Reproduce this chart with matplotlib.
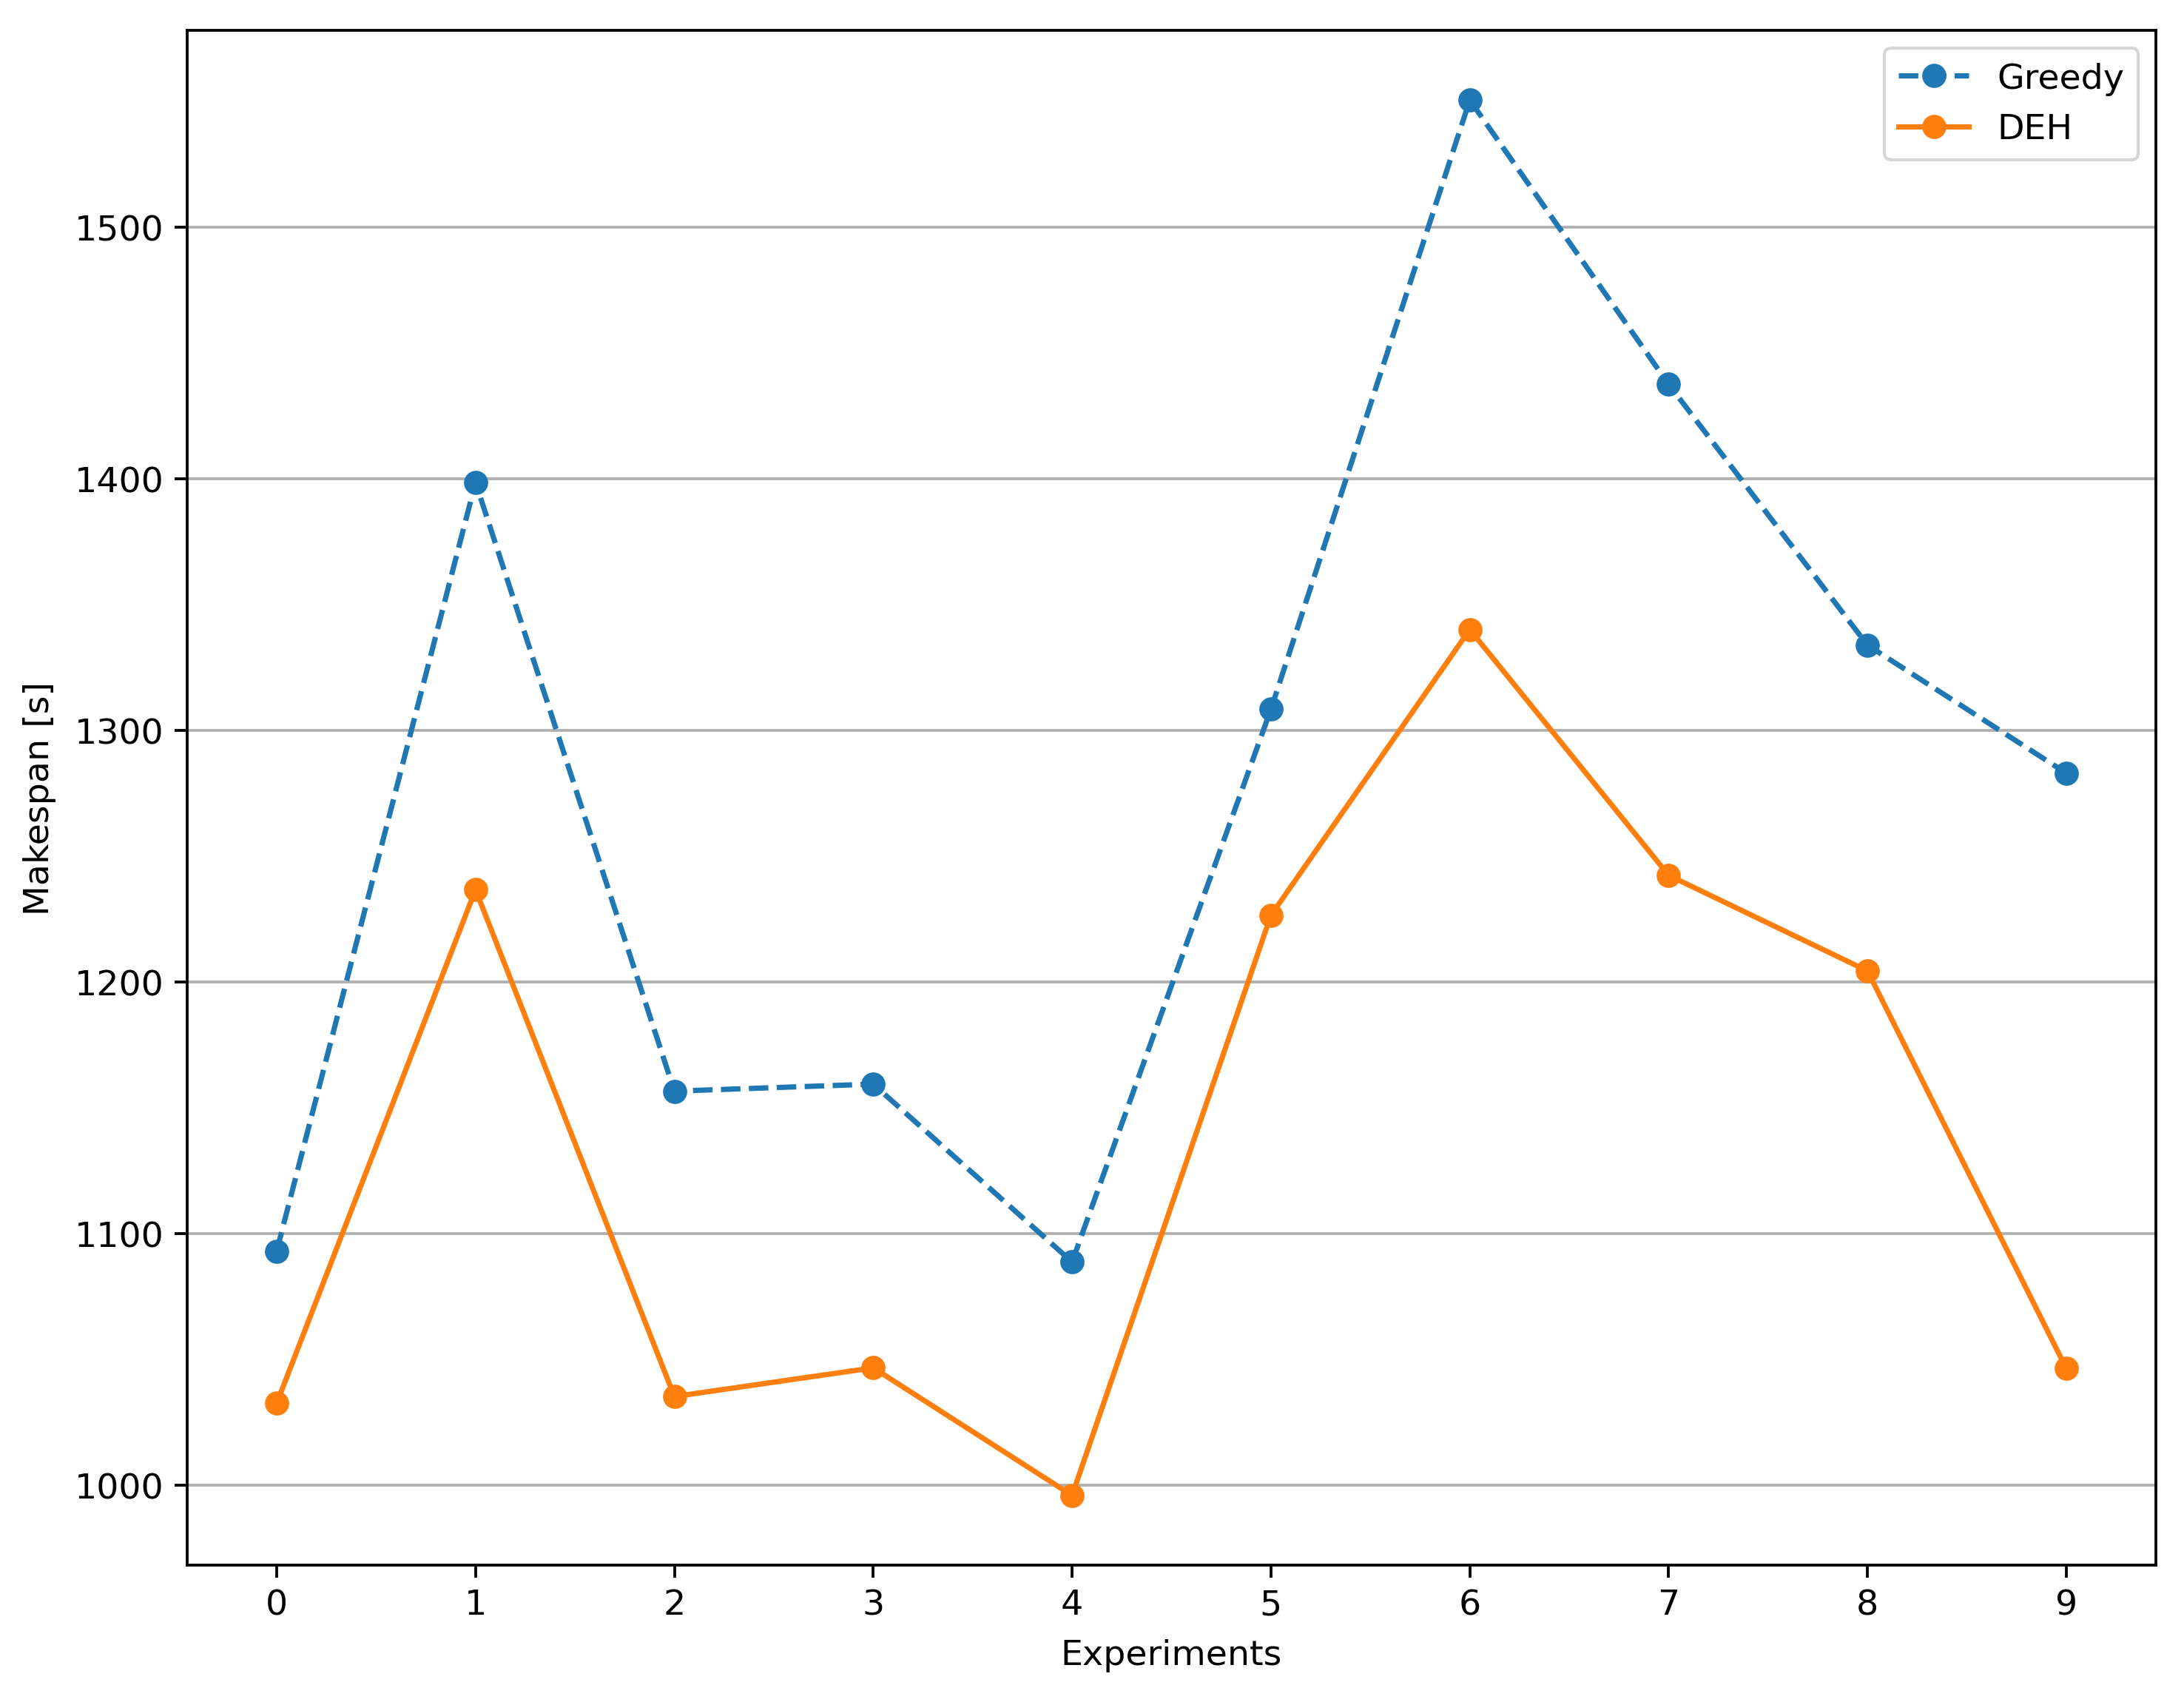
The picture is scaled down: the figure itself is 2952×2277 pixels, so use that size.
import matplotlib
matplotlib.use("Agg")
import matplotlib.pyplot as plt
import numpy as np

experiments = list(range(10))
greedy = [1093.0, 1398.6, 1156.6, 1159.4, 1088.7, 1308.4, 1550.6, 1437.6, 1333.9, 1283.0]
deh = [1032.5, 1236.7, 1035.2, 1046.6, 995.9, 1226.5, 1340.1, 1242.4, 1204.4, 1046.3]

s = 1.14
plt.rcParams.update({
    "font.size": 10 * s,
    "lines.linewidth": 1.5 * s,
    "lines.markersize": 6 * s,
    "axes.linewidth": 0.8 * s,
    "grid.linewidth": 0.8 * s,
    "xtick.major.size": 3.5 * s,
    "ytick.major.size": 3.5 * s,
    "xtick.major.width": 0.8 * s,
    "ytick.major.width": 0.8 * s,
})

fig = plt.figure(figsize=(9.84, 7.5933), dpi=300)
ax = fig.add_axes([0.0857, 0.0711, 0.9871 - 0.0857, 0.9816 - 0.0711])

ax.plot(experiments, greedy, "o--", color="#1f77b4", label="Greedy")
ax.plot(experiments, deh, "o-", color="#ff7f0e", label="DEH")

ax.set_xticks(experiments)
ax.set_xlabel("Experiments", labelpad=5.5)
ax.set_ylabel("Makespan [s]", labelpad=6)
ax.grid(axis="y")
ax.legend(loc="upper right")

fig.savefig("out.png", dpi=300)
